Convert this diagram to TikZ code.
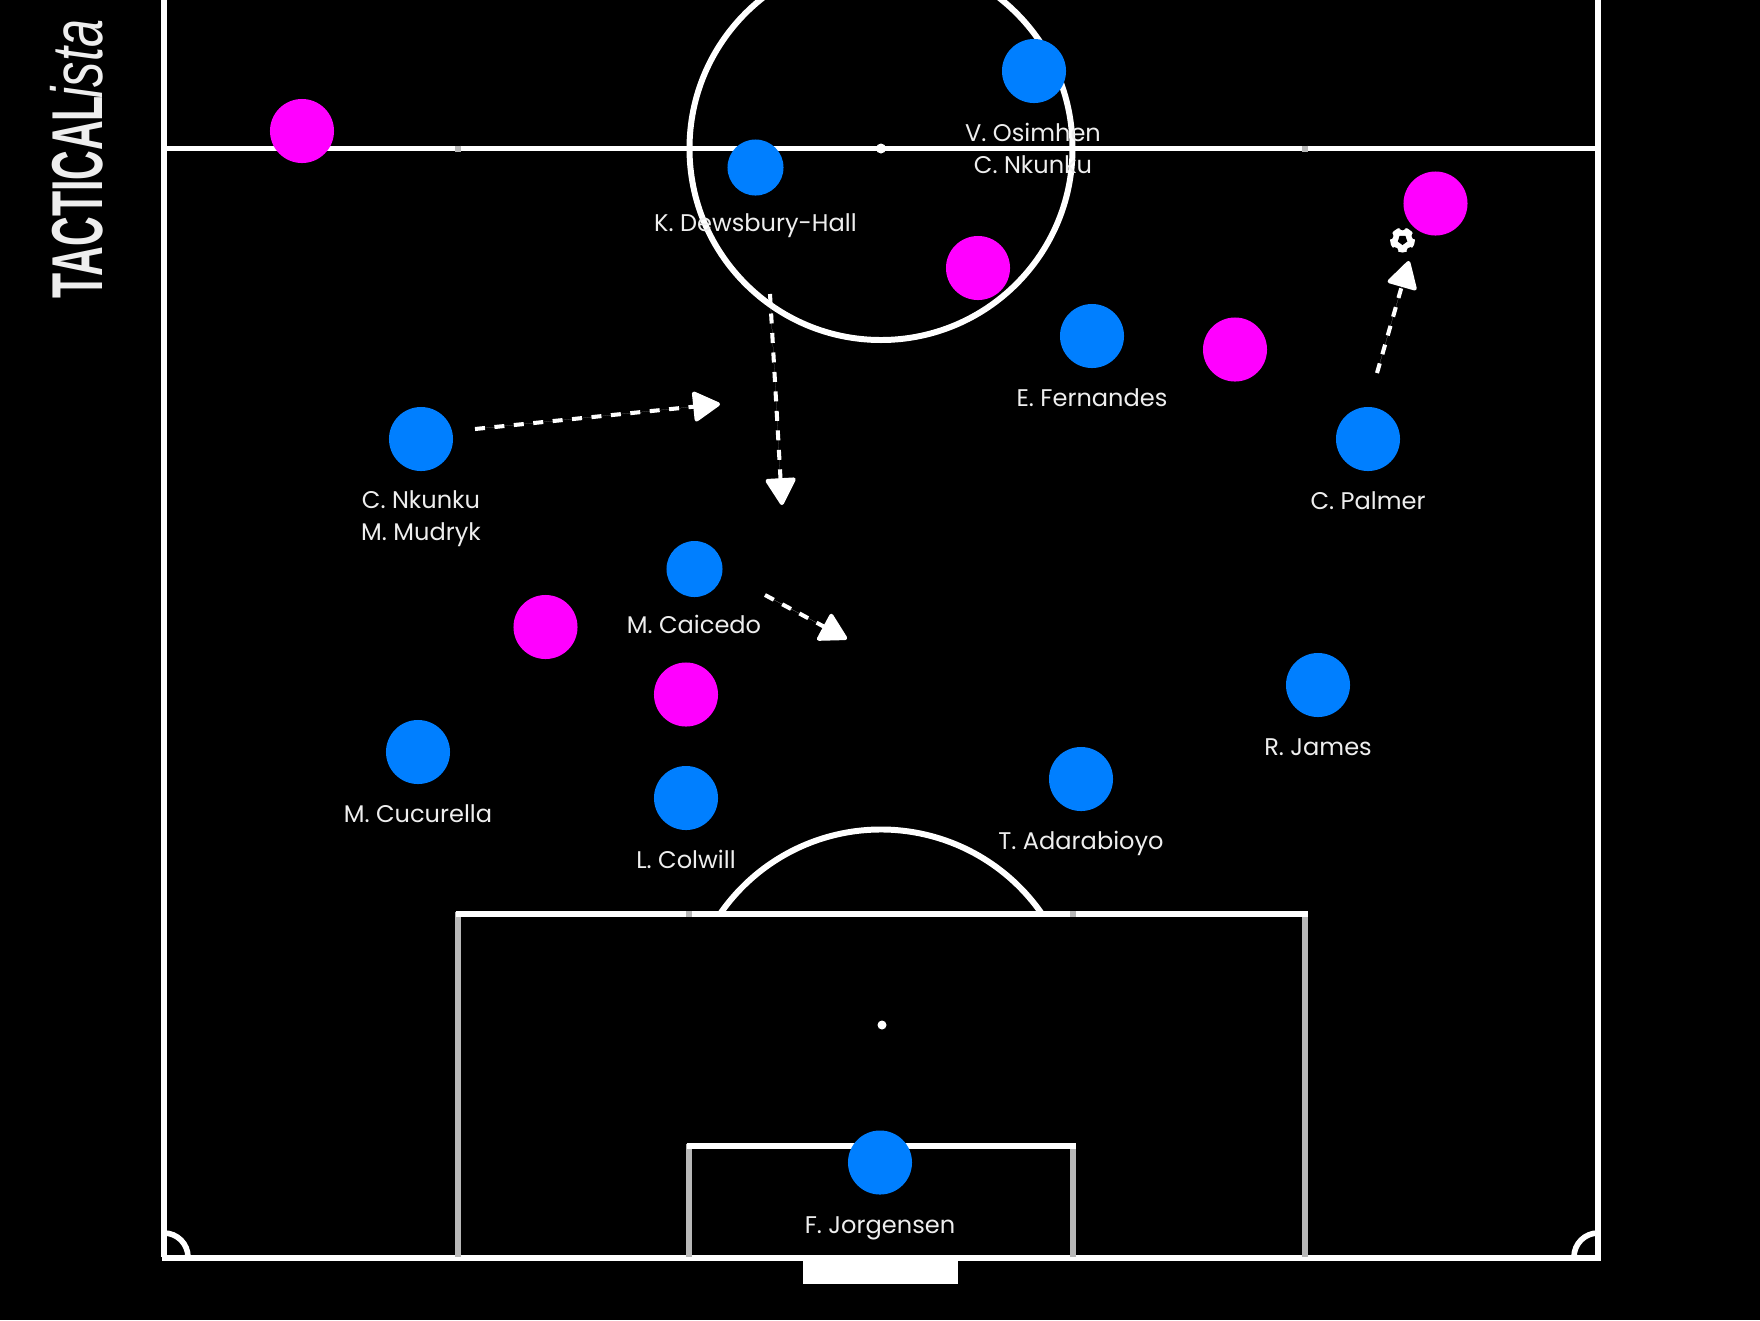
\documentclass[tikz,border=0pt]{standalone}
\usepackage{fontspec}
\setmainfont{Poppins}
\newfontfamily\logofont{Liberation Sans}
\usetikzlibrary{arrows.meta, shapes.geometric}
\definecolor{teamblue}{HTML}{007FFF}
\definecolor{teampink}{HTML}{FF00FF}
\definecolor{labelgrey}{HTML}{EEEEEE}

\begin{document}
\begin{tikzpicture}[
    x=0.01cm, y=-0.01cm,
    pitchline/.style={draw=white, line width=1.6pt},
    greyline/.style={draw=white!72!black, line width=1.5pt},
    blueplayer/.style={circle, fill=teamblue, minimum size=0.64cm, inner sep=0pt},
    smallplayer/.style={blueplayer, minimum size=0.56cm},
    pinkplayer/.style={blueplayer, fill=teampink},
    playername/.style={text=labelgrey, align=center, inner sep=0pt, font=\fontsize{6.85pt}{9.1pt}\selectfont},
    runarrow/.style={-{Triangle[length=0.29cm, width=0.32cm, round]}, draw=white, fill=white, line width=1.15pt, dash pattern=on 0.1cm off 0.095cm}
]

% --- BACKGROUND ---
\fill[black] (0,0) rectangle (1760,1320);
\useasboundingbox (0,0) rectangle (1760,1320);

% --- PITCH ---
% outer lines
\draw[pitchline] (164,0) -- (164,1257);
\draw[pitchline] (1598,0) -- (1598,1257);
\draw[pitchline] (161.5,1258) -- (1600.5,1258);
\draw[pitchline] (164,148.5) -- (1598,148.5);

% centre circle and spot
\draw[pitchline, line width=1.7pt] (881,148.5) circle (191.5);
\fill[white] (881,148.5) circle (5);

% penalty box
\draw[greyline] (458,912) -- (458,1257);
\draw[greyline] (1305,912) -- (1305,1257);
\draw[pitchline] (455.5,914) -- (1307.5,914);
\draw[pitchline, line width=1.7pt] (720,914) arc[start angle=214.6, end angle=325.4, radius=195.6];
\fill[white] (882,1025) circle (4.5);

% goal area
\draw[greyline] (689,1144) -- (689,1257);
\draw[greyline] (1073,1144) -- (1073,1257);
\draw[pitchline] (686.5,1146) -- (1075.5,1146);

% joints where the lines meet
\foreach \x/\y in {458/148.5, 1305/148.5, 689/914, 1073/914}
    \draw[greyline] (\x,\y-3) -- (\x,\y+3);

% goal
\fill[white] (803,1258) rectangle (958,1284);

% corners
\draw[pitchline] (164,1233) arc[start angle=270, end angle=360, radius=24];
\draw[pitchline] (1574,1257) arc[start angle=180, end angle=270, radius=24];

% --- LOGO ---
\node[text=labelgrey, inner sep=0pt, rotate=90, anchor=south west, font=\logofont\bfseries\fontsize{20.5pt}{20pt}\selectfont] (logo-main) at (104,299) {\scalebox{0.57}[1]{TACTICAL}};
\node[text=labelgrey, inner sep=0pt, rotate=90, anchor=south west, font=\logofont\itshape\fontsize{20.5pt}{20pt}\selectfont] (logo-ista) at (104,99) {\scalebox{0.7}[1]{ista}};

% --- PLAYERS ---
\foreach \name/\x/\y in {osimhen/1034/71, fernandes/1092/336, nkunku/421/439, palmer/1368/439, james/1318/685, cucurella/418/752, colwill/686/798, adarabioyo/1081/779, jorgensen/880/1162.5}
    \node[blueplayer] (p-\name) at (\x,\y) {};

\foreach \name/\x/\y in {dewsbury/755.5/167.5, caicedo/694.5/569}
    \node[smallplayer] (p-\name) at (\x,\y) {};

\foreach \j/\x/\y in {1/302/131, 2/978/268, 3/1235/349.5, 4/1435.5/203.5, 5/545.5/627, 6/686/694.5}
    \node[pinkplayer] (opp-\j) at (\x,\y) {};

% --- NAMES ---
\node[playername] (n-osimhen) at (1033,148) {V. Osimhen\\C. Nkunku};
\node[playername] (n-dewsbury) at (755.5,226) {K. Dewsbury-Hall};
\node[playername] (n-fernandes) at (1092,397.5) {E. Fernandes};
\node[playername] (n-nkunku) at (421,519) {C. Nkunku\\M. Mudryk};
\node[playername] (n-palmer) at (1368,500.5) {C. Palmer};
\node[playername] (n-caicedo) at (694,624) {M. Caicedo};
\node[playername] (n-james) at (1318,747) {R. James};
\node[playername] (n-cucurella) at (418,814) {M. Cucurella};
\node[playername] (n-colwill) at (686,859.5) {L. Colwill};
\node[playername] (n-adarabioyo) at (1081,843.5) {T. Adarabioyo};
\node[playername] (n-jorgensen) at (880,1228) {F. Jorgensen};

% --- BALL ---
\node[circle, fill=white, minimum size=0.25cm, inner sep=0pt] (ball) at (1402.5,240) {};
\node[regular polygon, regular polygon sides=5, fill=black, minimum size=0.1cm, inner sep=0pt, rotate=180] (ball-patch) at (ball) {};
\foreach \a in {-90,-18,54,126,198}
    \fill[black] (ball) ++(\a:13.5) circle (3.8);

% --- RUNS ---
\coordinate (r1-start) at (475,429);
\coordinate (r1-end) at (720,404);
\coordinate (r2-start) at (770,294);
\coordinate (r2-end) at (782,505);
\coordinate (r3-start) at (765,595);
\coordinate (r3-end) at (847,639);
\coordinate (r4-start) at (1377,373);
\coordinate (r4-end) at (1409,261);

\foreach \i in {1,...,4}
    \draw[runarrow] (r\i-start) -- (r\i-end);

\end{tikzpicture}
\end{document}
